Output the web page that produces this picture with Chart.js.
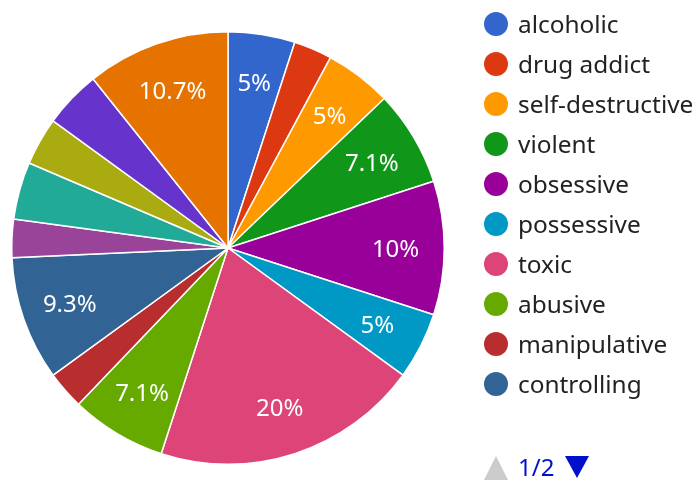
<!DOCTYPE html>
<html>
<head>
<meta charset="utf-8">
<script src="https://cdn.jsdelivr.net/npm/chart.js@4"></script>
<style>
  body { margin: 0; background: #fff; }
  #wrap { position: relative; width: 696px; height: 480px; font-family: "Noto Sans", sans-serif; }
  #wrap canvas { position: absolute; left: 0; top: 0; }
  .item { position: absolute; left: 484px; height: 40px; line-height: 40px; font-size: 24.4px; color: #222; white-space: nowrap; }
  .dot { position: absolute; left: 0; top: 8px; width: 24px; height: 24px; border-radius: 50%; }
  .item span.txt { position: absolute; left: 34px; top: 0; }
  #pager { position: absolute; left: 484px; top: 452px; height: 30px; font-size: 24px; line-height: 30px; color: #0011cc; }
</style>
</head>
<body>
<div id="wrap">
  <canvas id="myChart" width="696" height="480"></canvas>
  <div id="legend"></div>
  <div id="pager">
    <svg width="24" height="24" style="position:absolute;left:0;top:4px"><polygon points="12,0 24,24 0,24" fill="#cccccc"/></svg>
    <span style="position:absolute;left:34px;top:0">1/2</span>
    <svg width="24" height="22" style="position:absolute;left:81px;top:4px"><polygon points="0,0 24,0 12,22" fill="#0011cc"/></svg>
  </div>
</div>
<script>
// data block
const categories = ["alcoholic", "drug addict", "self-destructive", "violent", "obsessive",
    "possessive", "toxic", "abusive", "manipulative", "controlling",
    "jealous", "narcissistic", "insecure", "cheater", "emotionally unavailable"];
const counts = [7, 4, 7, 10, 14, 7, 28, 10, 4, 13, 4, 6, 5, 6, 15];
const colors = ["#3366cc", "#dc3912", "#ff9900", "#109618", "#990099", "#0099c6", "#dd4477",
    "#66aa00", "#b82e2e", "#316395", "#994499", "#22aa99", "#aaaa11", "#6633cc", "#e67300"];
const legendPageSize = 10;

const total = counts.reduce((a, b) => a + b, 0);

// legend (page 1 of 2)
const legendEl = document.getElementById('legend');
categories.slice(0, legendPageSize).forEach((name, i) => {
    const row = document.createElement('div');
    row.className = 'item';
    row.style.top = (4 + 40 * i) + 'px';
    row.innerHTML = '<div class="dot" style="background:' + colors[i] + '"></div><span class="txt">' + name + '</span>';
    legendEl.appendChild(row);
});

// percent text on slices
const sliceText = {
    id: 'sliceText',
    afterDatasetsDraw(chart) {
        const ctx = chart.ctx;
        const meta = chart.getDatasetMeta(0);
        ctx.save();
        ctx.fillStyle = '#ffffff';
        ctx.font = '24px "Noto Sans"';
        ctx.textAlign = 'center';
        ctx.textBaseline = 'middle';
        meta.data.forEach((arc, i) => {
            const pct = counts[i] / total * 100;
            if (pct < 5) return;
            const p = arc.getProps(['x', 'y', 'startAngle', 'endAngle', 'outerRadius'], true);
            const mid = (p.startAngle + p.endAngle) / 2;
            const r = p.outerRadius * 0.775;
            let txt = pct.toFixed(1).replace(/\.0$/, '') + '%';
            ctx.fillText(txt, p.x + Math.cos(mid) * r, p.y + Math.sin(mid) * r + 2);
        });
        ctx.restore();
    }
};

const config = {
    type: 'pie',
    data: {
        labels: categories,
        datasets: [{
            data: counts,
            backgroundColor: colors,
            borderColor: '#ffffff',
            borderWidth: 1.5
        }]
    },
    options: {
        responsive: false,
        animation: false,
        layout: { padding: { left: 11, top: 31, right: 251, bottom: 15 } },
        plugins: {
            legend: { display: false },
            tooltip: { enabled: false }
        }
    },
    plugins: [sliceText]
};

const myChart = new Chart(document.getElementById('myChart'), config);
</script>
</body>
</html>
